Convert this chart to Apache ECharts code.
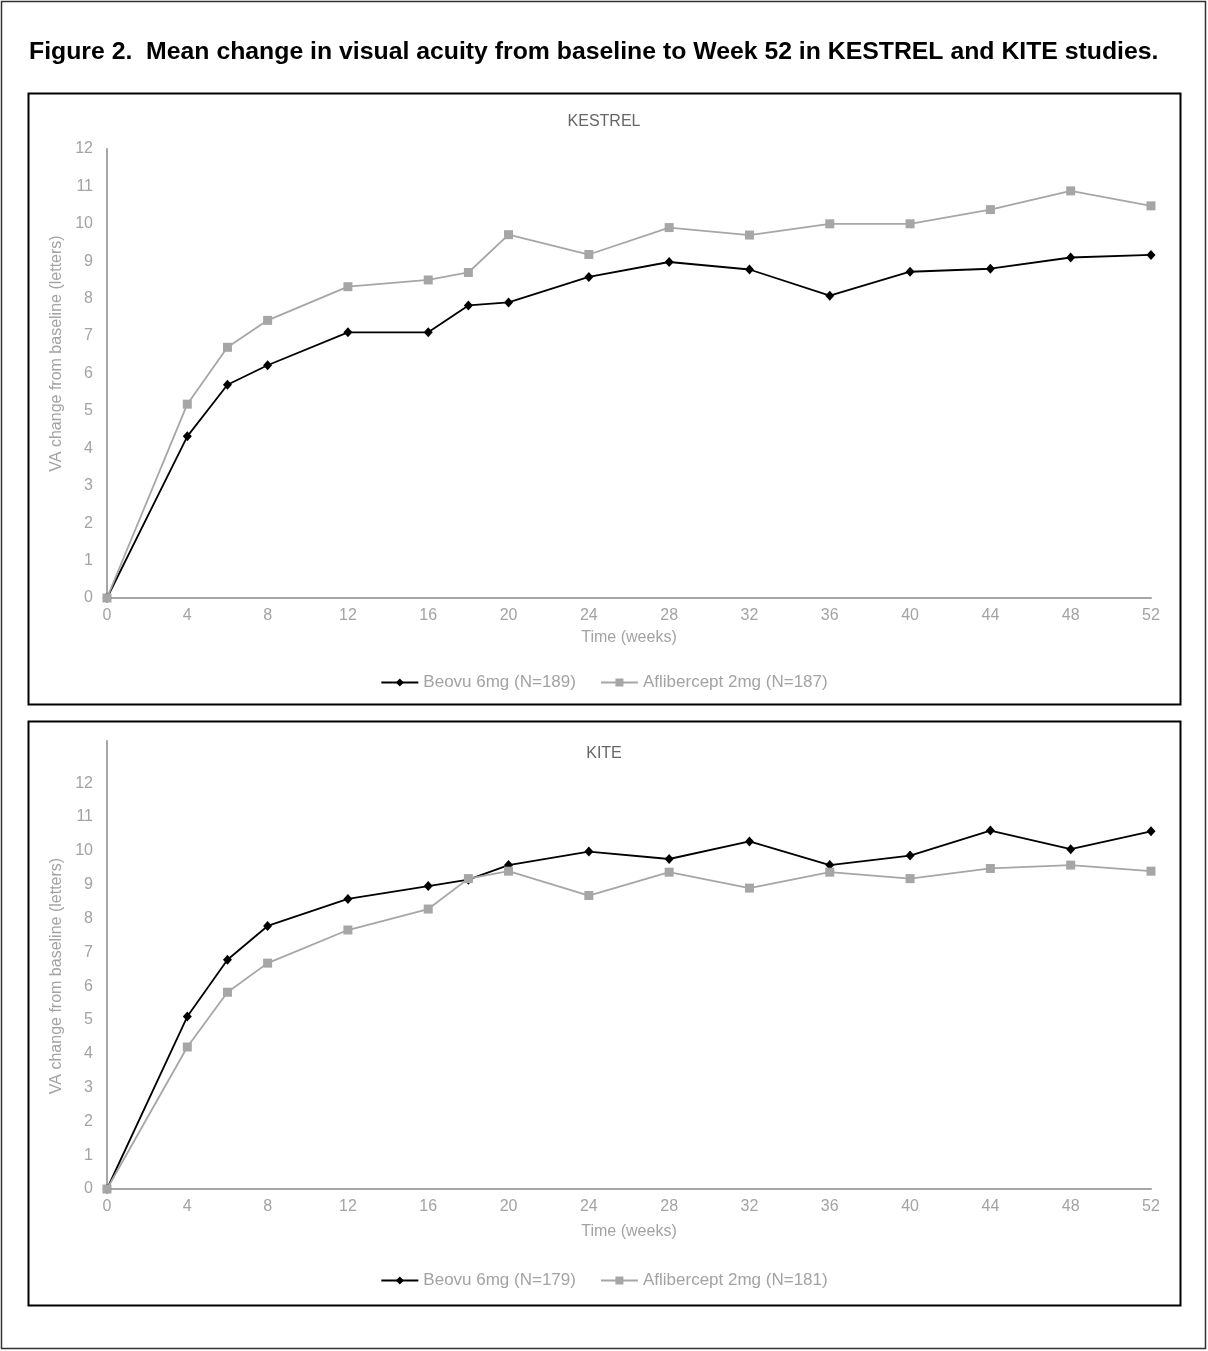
<!DOCTYPE html>
<html><head><meta charset="utf-8">
<script src="https://cdn.jsdelivr.net/npm/echarts@6/dist/echarts.min.js"></script>
<style>html,body{margin:0;padding:0;background:#fff}#c{width:1208px;height:1351px}</style>
</head><body><div id="c"></div>
<script>
const weeks = [0,4,6,8,12,16,18,20,24,28,32,36,40,44,48,52];
const xTicks = [0,4,8,12,16,20,24,28,32,36,40,44,48,52];
const yTicks = [0,1,2,3,4,5,6,7,8,9,10,11,12];
const kestrelBeovu = [0,4.32,5.70,6.22,7.10,7.10,7.82,7.90,8.58,8.98,8.78,8.08,8.72,8.80,9.10,9.17];
const kestrelAfli  = [0,5.18,6.70,7.42,8.32,8.50,8.70,9.71,9.18,9.90,9.70,10.00,10.00,10.38,10.88,10.48];
const kiteBeovu = [0,5.10,6.78,7.78,8.58,8.96,9.15,9.58,9.98,9.76,10.28,9.58,9.86,10.60,10.05,10.58];
const kiteAfli  = [0,4.20,5.82,6.68,7.66,8.28,9.18,9.40,8.68,9.37,8.90,9.37,9.18,9.48,9.58,9.40];
const panelTitles = ['KESTREL','KITE'];
const legendNames = [['Beovu 6mg (N=189)','Aflibercept 2mg (N=187)'],['Beovu 6mg (N=179)','Aflibercept 2mg (N=181)']];
const figTitle = 'Figure 2.  Mean change in visual acuity from baseline to Week 52 in KESTREL and KITE studies.';

const FONT = '"Liberation Sans", Arial, Helvetica, sans-serif';
const GRAY = '#a3a3a3';
const LINEGRAY = '#a6a6a6';
const pairs = (vals) => weeks.map((w,i)=>[w, vals[i]]);

const grids = [
  {left:107, width:1044, top:149, height:449},
  {left:107, width:1044, top:741, height:448}
];
function xAx(i, gap){ return {type:'value', gridIndex:i, min:0, max:52, interval:4,
  name:'Time (weeks)', nameLocation:'middle', nameGap:gap,
  nameTextStyle:{color:GRAY, fontSize:16, fontFamily:FONT},
  axisLine:{lineStyle:{color:LINEGRAY, width:2}}, axisTick:{show:false}, splitLine:{show:false},
  axisLabel:{color:GRAY, fontSize:16, fontFamily:FONT, margin:10}}; }
function yAx(i, max, pad){ return {type:'value', gridIndex:i, min:0, max:max, interval:1,
  name:'VA change from baseline (letters)', nameLocation:'middle', nameGap:39,
  nameTextStyle:{color:GRAY, fontSize:16, fontFamily:FONT, padding:pad},
  axisLine:{show:true, lineStyle:{color:LINEGRAY, width:2}}, axisTick:{show:false}, splitLine:{show:false},
  axisLabel:{color:GRAY, fontSize:16, fontFamily:FONT, margin:14, formatter:(v)=> v<=12 ? String(v) : ''}}; }

function ser(name, vals, i, black){
  return {type:'line', name:name, xAxisIndex:i, yAxisIndex:i, data:pairs(vals),
    symbol: black ? 'diamond' : 'rect', symbolSize: black ? [9,10] : 9,
    lineStyle:{color: black ? '#000' : LINEGRAY, width:1.8},
    itemStyle:{color: black ? '#000' : LINEGRAY}, animation:false};
}

const legendCommon = {left:'center', itemWidth:37, itemHeight:10, itemGap:24,
  textStyle:{color:GRAY, fontSize:17, fontFamily:FONT}};

const chart = echarts.init(document.getElementById('c'), null, {renderer:'canvas'});
chart.setOption({
  backgroundColor:'#fff',
  animation:false,
  title:[
    {text:figTitle, left:24, top:35, textStyle:{fontFamily:FONT, fontWeight:'bold', fontSize:24.8, color:'#000'}},
    {text:panelTitles[0], left:'center', top:109, textStyle:{fontFamily:FONT, fontWeight:'normal', fontSize:16, color:'#666'}},
    {text:panelTitles[1], left:'center', top:741, textStyle:{fontFamily:FONT, fontWeight:'normal', fontSize:16, color:'#666'}}
  ],
  legend:[
    Object.assign({data:legendNames[0], top:669}, legendCommon),
    Object.assign({data:legendNames[1], top:1267}, legendCommon)
  ],
  grid:grids,
  xAxis:[xAx(0,32), xAx(1,35)],
  yAxis:[yAx(0,12,[0,0,0,40]), yAx(1,13.25,[0,22,0,0])],
  series:[
    ser(legendNames[0][0], kestrelBeovu, 0, true),
    ser(legendNames[0][1], kestrelAfli, 0, false),
    ser(legendNames[1][0], kiteBeovu, 1, true),
    ser(legendNames[1][1], kiteAfli, 1, false)
  ],
  graphic:[
    {type:'rect', shape:{x:1.5,y:1.5,width:1204,height:1347}, style:{fill:null, stroke:'#333', lineWidth:1.5}, silent:true},
    {type:'rect', shape:{x:28.5,y:93.5,width:1152,height:611}, style:{fill:null, stroke:'#000', lineWidth:2}, silent:true},
    {type:'rect', shape:{x:28.5,y:721.5,width:1152,height:584}, style:{fill:null, stroke:'#000', lineWidth:2}, silent:true}
  ]
});
</script></body></html>
